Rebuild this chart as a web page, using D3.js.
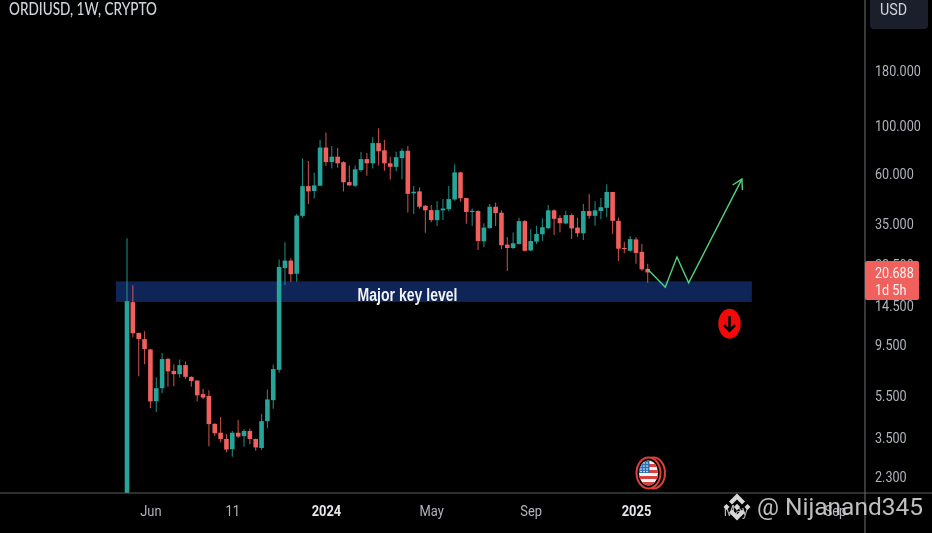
<!DOCTYPE html>
<html>
<head>
<meta charset="utf-8">
<title>ORDIUSD</title>
<script src="https://cdn.jsdelivr.net/npm/d3@7"></script>
<style>
  html, body { margin: 0; padding: 0; background: #000; overflow: hidden; }
  svg { display: block; filter: blur(0.55px); }
  .priceAxis text { font-family: Roboto, sans-serif; font-size: 15px; fill: #b2b5be; }
  .timeAxis text { font-family: Roboto, sans-serif; font-size: 14px; fill: #b2b5be; }
  .timeAxis text.year { font-weight: 700; fill: #e4e6ea; }
</style>
</head>
<body>
<div id="chart"></div>
<script>
// weekly candles, oldest first
var opens = [1.5, 15.04, 10.81, 10.11, 9.05, 5.19, 5.97, 8.18, 7.19, 6.94,
  7.65, 6.74, 6.48, 5.6, 5.49, 4.07, 3.7, 3.46, 3.1, 3.7,
  3.57, 3.77, 3.46, 3.14, 4.19, 5.25, 7.27, 21.7, 23.5, 20.4,
  38, 52.3, 49.6, 52.5, 79.1, 67.7, 71.7, 67.6, 54.6, 52.5,
  62.1, 69.9, 66.8, 83, 76.8, 66.8, 64.3, 70.6, 76.4, 48.4,
  49.4, 42.3, 40.4, 36.3, 40.3, 40.8, 45.3, 60.6, 46, 39.6,
  40, 28.9, 33.3, 41.9, 39.3, 27.9, 26.9, 28.1, 35.9, 26.2,
  28.8, 31.2, 33.3, 40.3, 37.1, 35, 38.3, 33.5, 31.5, 40,
  38, 40, 41.4, 49.1, 36, 26.9, 26.1, 29.5, 25.8, 21.5];
var highs = [29.9, 18.03, 10.83, 11.01, 9.1, 6.72, 8.7, 8.24, 7.72, 8.13,
  7.96, 6.79, 6.49, 5.94, 5.84, 4.1, 4.38, 3.65, 3.77, 4.24,
  3.84, 3.87, 3.48, 4.52, 5.88, 7.7, 23.8, 28.6, 24.1, 38.8,
  70.5, 68.5, 60.3, 85.8, 92.9, 80.4, 78.7, 68.3, 65.3, 65.3,
  75.4, 74.6, 88.3, 97.3, 85.8, 71.7, 75.9, 78.4, 80.4, 52.3,
  51.6, 42.7, 42.7, 44.4, 45.5, 52.3, 66, 61, 46.2, 41.1,
  40.4, 35.1, 43.1, 43.7, 40.4, 30.3, 31.8, 37.2, 36.3, 33,
  34.1, 37, 42.7, 40.8, 38.2, 40.1, 39, 37.2, 43.1, 48.1,
  44.5, 46, 53.4, 49.1, 37.3, 28.8, 30.6, 30.2, 28.1, 22.7];
var lows = [1.5, 10.32, 6.79, 7.72, 4.83, 4.62, 5.65, 6.07, 6.1, 6.67,
  6.6, 6.07, 5.19, 5.3, 3.2, 3.57, 3.34, 3, 2.86, 3.5,
  3.18, 3.27, 3.05, 3.07, 3.88, 4.79, 7.04, 18.1, 18.65, 18.7,
  37.2, 43.1, 45.8, 52.4, 65, 63.2, 63.6, 49.4, 52.3, 52,
  61, 58.5, 63.1, 65.3, 61.7, 56.2, 61.4, 56.2, 39.4, 38.8,
  41, 31.7, 35.5, 34.1, 36.3, 39.9, 44.7, 44.2, 34.9, 34.1,
  26.3, 27.1, 33.2, 34.1, 26.6, 21, 26.6, 27.9, 25.9, 26,
  28.1, 29.1, 33, 30.9, 31.9, 34.7, 29.6, 30.3, 29.3, 36.8,
  34.2, 36.6, 37.5, 31.3, 23.4, 25.4, 25.9, 22.7, 21, 18.5];
var closes = [15.2, 10.77, 10.11, 9.08, 5.18, 5.97, 8.16, 7.15, 6.94, 7.65,
  6.74, 6.45, 5.53, 5.4, 4.06, 3.68, 3.46, 3.09, 3.7, 3.55,
  3.77, 3.46, 3.16, 4.19, 5.29, 7.33, 21.95, 23.5, 20.3, 38.1,
  52.3, 49.4, 52.7, 79.1, 67.7, 71.7, 66.8, 54.5, 52.7, 62.6,
  69.9, 66.8, 83, 76, 66.8, 64.3, 71.3, 76.4, 48.1, 49.2,
  41.9, 40.3, 36.3, 40.4, 41.1, 45.5, 60.6, 45.9, 39.6, 40.1,
  29, 33.5, 41.9, 39.1, 27.7, 26.9, 28.3, 35.9, 26.1, 29,
  31.3, 33.6, 40.3, 36.8, 35.1, 38.3, 33.2, 31.5, 40, 38,
  40.3, 41.7, 49.1, 36, 26.7, 26.6, 29.6, 25.5, 21.4, 20.688];

// price axis and time axis labels
var priceTicks = [180, 100, 60, 35, 22.5, 14.5, 9.5, 5.5, 3.5, 2.3];
var timeTickBars = [4, 18, 34, 52, 69, 87, 104, 121];
var timeTickLabels = ["Jun", "11", "2024", "May", "Sep", "2025", "May", "Sep"];
var yearLabels = ["2024", "2025"];

// drawing on top of the chart
var keyLevelPrices = [18.8, 15.07];
var keyLevelBars = [-1.9, 106.8];
var keyLevelLabel = "Major key level";
var projectionBars = [89, 92, 94, 96, 105.1];
var projectionPrices = [21.4, 17.66, 24.4, 18.5, 56.4];
var lastPrice = 20.688;
var countdown = "1d 5h";

var svgWidth = 932;
var svgHeight = 533;
var axisX = 865;
var axisY = 493;

// the screenshot is squeezed sideways, so the text has to be too
function squeeze(selection, factor) {
  selection.each(function () {
    this.setAttribute("textLength", this.getComputedTextLength() * factor);
    this.setAttribute("lengthAdjust", "spacingAndGlyphs");
  });
}

var svg = d3.select("#chart")
  .append("svg")
  .attr("width", svgWidth)
  .attr("height", svgHeight);

svg.append("rect")
  .attr("width", svgWidth)
  .attr("height", svgHeight)
  .attr("fill", "#000");

var defs = svg.append("defs");

defs.append("clipPath")
  .attr("id", "plotClip")
  .append("rect")
  .attr("width", axisX)
  .attr("height", axisY);

defs.append("marker")
  .attr("id", "openArrow")
  .attr("markerUnits", "userSpaceOnUse")
  .attr("viewBox", "-12 -8 14 16")
  .attr("markerWidth", 14)
  .attr("markerHeight", 16)
  .attr("orient", "auto")
  .append("path")
  .attr("d", "M-9.5,-5.5L0,0L-9.5,5.5")
  .attr("fill", "none")
  .attr("stroke", "#52d17c")
  .attr("stroke-width", 1.4);

// scales
var xScale = d3.scaleLinear()
  .domain([0, 89])
  .range([127, 647.7]);

var yScale = d3.scaleLog()
  .domain([180, 2.3])
  .range([71, 477]);

// key level band goes under the candles
svg.append("rect")
  .attr("x", xScale(keyLevelBars[0]))
  .attr("y", yScale(keyLevelPrices[0]))
  .attr("width", xScale(keyLevelBars[1]) - xScale(keyLevelBars[0]))
  .attr("height", yScale(keyLevelPrices[1]) - yScale(keyLevelPrices[0]))
  .attr("fill", "#0f2558");

// candles
var candleColor = function (i) {
  return closes[i] >= opens[i] ? "#26a69a" : "#f0605c";
};

var candleGroup = svg.append("g")
  .attr("clip-path", "url(#plotClip)");

candleGroup.selectAll("line")
  .data(d3.range(opens.length))
  .enter()
  .append("line")
  .attr("x1", i => xScale(i))
  .attr("x2", i => xScale(i))
  .attr("y1", i => yScale(highs[i]))
  .attr("y2", i => yScale(lows[i]))
  .attr("stroke", candleColor)
  .attr("stroke-opacity", 0.8)
  .attr("stroke-width", 1.1);

candleGroup.selectAll("rect")
  .data(d3.range(opens.length))
  .enter()
  .append("rect")
  .attr("x", i => xScale(i) - 2.3)
  .attr("width", 4.6)
  .attr("y", i => yScale(Math.max(opens[i], closes[i])))
  .attr("height", i => Math.max(1, Math.abs(yScale(opens[i]) - yScale(closes[i]))))
  .attr("fill", candleColor);

// band label
svg.append("text")
  .attr("x", 407.5)
  .attr("y", 301)
  .attr("text-anchor", "middle")
  .attr("font-family", "'Liberation Sans', sans-serif")
  .attr("font-weight", 700)
  .attr("font-size", 17.5)
  .attr("textLength", 100)
  .attr("lengthAdjust", "spacingAndGlyphs")
  .attr("fill", "#f2f2f2")
  .text(keyLevelLabel);

// projected path with an open arrow at the end
var projectionLine = d3.line()
  .x(d => xScale(d[0]))
  .y(d => yScale(d[1]));

svg.append("path")
  .datum(d3.zip(projectionBars, projectionPrices))
  .attr("d", projectionLine)
  .attr("fill", "none")
  .attr("stroke", "#52d17c")
  .attr("stroke-width", 1.4)
  .attr("marker-end", "url(#openArrow)");

// red down arrow badge
var badge = svg.append("g")
  .attr("transform", "translate(729.5,323.7)");

badge.append("ellipse")
  .attr("rx", 11.2)
  .attr("ry", 15)
  .attr("fill", "#f00a0a");

badge.append("path")
  .attr("d", "M0,-7.5V7M-5.5,1.5L0,7L5.5,1.5")
  .attr("fill", "none")
  .attr("stroke", "#000")
  .attr("stroke-width", 2.6);

// news icon with the flag
var flag = svg.append("g")
  .attr("transform", "translate(648.5,473)");

flag.append("ellipse")
  .attr("cx", 5)
  .attr("rx", 11.5)
  .attr("ry", 15.5)
  .attr("fill", "#000")
  .attr("stroke", "#e0403c")
  .attr("stroke-width", 2);

flag.append("ellipse")
  .attr("rx", 12)
  .attr("ry", 15.5)
  .attr("fill", "#000")
  .attr("stroke", "#e0403c")
  .attr("stroke-width", 2);

defs.append("clipPath")
  .attr("id", "flagClip")
  .append("ellipse")
  .attr("rx", 9.5)
  .attr("ry", 12.5);

var flagFace = flag.append("g")
  .attr("clip-path", "url(#flagClip)");

flagFace.append("rect")
  .attr("x", -10)
  .attr("y", -13)
  .attr("width", 20)
  .attr("height", 26)
  .attr("fill", "#f4f4f4");

flagFace.selectAll(".stripe")
  .data([-9, -3, 3, 9])
  .enter()
  .append("rect")
  .attr("class", "stripe")
  .attr("x", -10)
  .attr("y", d => d)
  .attr("width", 20)
  .attr("height", 3)
  .attr("fill", "#d9413d");

flagFace.append("rect")
  .attr("x", -10)
  .attr("y", -13)
  .attr("width", 11)
  .attr("height", 13)
  .attr("fill", "#2f6db5");

flagFace.selectAll(".star")
  .data(d3.cross([-7.5, -4.5, -1.5], [-10, -7, -4, -1.5]))
  .enter()
  .append("circle")
  .attr("class", "star")
  .attr("cx", d => d[0])
  .attr("cy", d => d[1])
  .attr("r", 0.8)
  .attr("fill", "#fff");

// axis lines
svg.append("line")
  .attr("x1", axisX)
  .attr("x2", axisX)
  .attr("y1", 0)
  .attr("y2", svgHeight)
  .attr("stroke", "#5d5f63")
  .attr("stroke-width", 1.2);

svg.append("line")
  .attr("x1", 0)
  .attr("x2", svgWidth)
  .attr("y1", axisY)
  .attr("y2", axisY)
  .attr("stroke", "#5d5f63")
  .attr("stroke-width", 1.2);

// price axis
var priceAxis = d3.axisRight(yScale)
  .tickValues(priceTicks)
  .tickFormat(d3.format(".3f"))
  .tickSize(0)
  .tickPadding(10);

svg.append("g")
  .attr("class", "priceAxis")
  .attr("transform", `translate(${axisX}, 0)`)
  .call(priceAxis)
  .call(g => g.select(".domain").remove())
  .selectAll("text")
  .call(squeeze, 0.84);

// time axis
var timeAxis = d3.axisBottom(xScale)
  .tickValues(timeTickBars)
  .tickFormat((d, i) => timeTickLabels[i])
  .tickSize(0)
  .tickPadding(13);

svg.append("g")
  .attr("class", "timeAxis")
  .attr("transform", `translate(0, ${axisY})`)
  .call(timeAxis)
  .call(g => g.select(".domain").remove())
  .selectAll("text")
  .classed("year", d => yearLabels.indexOf(timeTickLabels[timeTickBars.indexOf(d)]) >= 0)
  .call(squeeze, 0.92);

// currency button
svg.append("path")
  .attr("d", "M870,0H928V25Q928,29 924,29H874Q870,29 870,25Z")
  .attr("fill", "#1b1f2b");

svg.append("text")
  .attr("x", 893.5)
  .attr("y", 15)
  .attr("text-anchor", "middle")
  .attr("font-family", "Roboto, sans-serif")
  .attr("font-size", 17)
  .attr("fill", "#d1d4dc")
  .text("USD")
  .call(squeeze, 0.84);

// last price tag
svg.append("rect")
  .attr("x", axisX)
  .attr("y", 261)
  .attr("width", 54)
  .attr("height", 39)
  .attr("rx", 2)
  .attr("fill", "#f0605c");

svg.append("text")
  .attr("x", 875)
  .attr("y", 277.5)
  .attr("font-family", "Roboto, sans-serif")
  .attr("font-size", 15)
  .attr("fill", "#f4f4f4")
  .text(d3.format(".3f")(lastPrice))
  .call(squeeze, 0.84);

svg.append("text")
  .attr("x", 875)
  .attr("y", 295)
  .attr("font-family", "Roboto, sans-serif")
  .attr("font-size", 15)
  .attr("fill", "#f4f4f4")
  .text(countdown)
  .call(squeeze, 0.84);

// title
svg.append("text")
  .attr("x", 9)
  .attr("y", 14.5)
  .attr("font-family", "Lato, sans-serif")
  .attr("font-size", 17)
  .attr("font-weight", 500)
  .attr("textLength", 148)
  .attr("lengthAdjust", "spacingAndGlyphs")
  .attr("fill", "#d1d4dc")
  .text("ORDIUSD, 1W, CRYPTO");

// watermark
var logo = svg.append("g")
  .attr("transform", "translate(737,507)")
  .attr("fill", "#d8d8d8");

logo.selectAll("path")
  .data([
    "M0,-13.5L8,-5.5L5,-2.5L0,-7.5L-5,-2.5L-8,-5.5Z",
    "M0,13.5L8,5.5L5,2.5L0,7.5L-5,2.5L-8,5.5Z",
    "M-13.5,0L-10.5,-3L-7.5,0L-10.5,3Z",
    "M13.5,0L10.5,-3L7.5,0L10.5,3Z",
    "M0,-3.2L3.2,0L0,3.2L-3.2,0Z"
  ])
  .enter()
  .append("path")
  .attr("d", d => d);

svg.append("text")
  .attr("x", 757)
  .attr("y", 515)
  .attr("font-family", "Roboto, sans-serif")
  .attr("font-size", 24)
  .attr("textLength", 166)
  .attr("lengthAdjust", "spacingAndGlyphs")
  .attr("fill", "#cfcfcf")
  .attr("fill-opacity", 0.92)
  .text("@ Nijanand345");
</script>
</body>
</html>
